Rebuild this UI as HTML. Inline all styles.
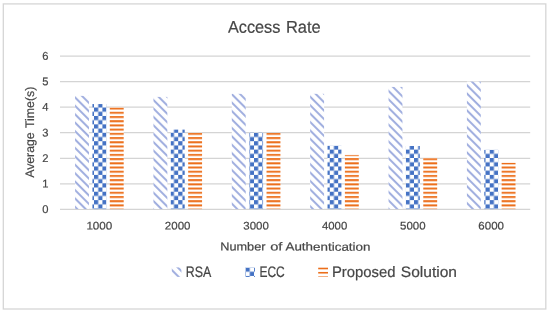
<!DOCTYPE html>
<html lang="en"><head><meta charset="utf-8"><title>Access Rate</title>
<style>html,body{margin:0;padding:0;background:#fff;}body{width:550px;height:313px;overflow:hidden;}svg{display:block;}text{font-family:"Liberation Sans", sans-serif;fill:#464646;stroke:#464646;stroke-width:0.2px;text-rendering:geometricPrecision;}</style>
</head><body>
<svg width="550" height="313" viewBox="0 0 550 313">
<defs>
<pattern id="pr" patternUnits="userSpaceOnUse" width="5.954" height="5.954" patternTransform="rotate(45)"><rect x="0" y="2.899" width="6.054" height="1.945" fill="#9cabde"/></pattern>
<pattern id="pe" patternUnits="userSpaceOnUse" x="94.00" y="183.30" width="8.42" height="8.42"><rect x="0" y="0" width="4.21" height="4.21" fill="#4472c4"/><rect x="4.21" y="4.21" width="4.21" height="4.21" fill="#4472c4"/></pattern>
<pattern id="pp" patternUnits="userSpaceOnUse" x="0" y="183.30" width="4.21" height="4.21"><rect x="0" y="0.1" width="4.21" height="1.95" fill="#ec6e1a"/></pattern>
</defs>
<rect x="0" y="0" width="550" height="313" fill="#fff"/>
<rect x="3.3" y="3.9" width="542.5" height="305.1" fill="#fff" stroke="#d6d6d6" stroke-width="1.3"/>
<line x1="60.0" y1="209.40" x2="530.2" y2="209.40" stroke="#d4d4d4" stroke-width="1.25"/>
<line x1="60.0" y1="183.83" x2="530.2" y2="183.83" stroke="#d4d4d4" stroke-width="1.25"/>
<line x1="60.0" y1="158.27" x2="530.2" y2="158.27" stroke="#d4d4d4" stroke-width="1.25"/>
<line x1="60.0" y1="132.70" x2="530.2" y2="132.70" stroke="#d4d4d4" stroke-width="1.25"/>
<line x1="60.0" y1="107.13" x2="530.2" y2="107.13" stroke="#d4d4d4" stroke-width="1.25"/>
<line x1="60.0" y1="81.57" x2="530.2" y2="81.57" stroke="#d4d4d4" stroke-width="1.25"/>
<line x1="60.0" y1="56.00" x2="530.2" y2="56.00" stroke="#d4d4d4" stroke-width="1.25"/>
<rect x="75.07" y="95.88" width="13.90" height="113.02" fill="#fff"/>
<rect x="75.07" y="95.88" width="13.90" height="113.22" fill="url(#pr)"/>
<rect x="92.43" y="104.07" width="13.90" height="104.83" fill="#fff"/>
<rect x="92.43" y="104.07" width="13.90" height="105.03" fill="url(#pe)"/>
<rect x="109.79" y="107.39" width="13.90" height="101.51" fill="#fff"/>
<rect x="109.79" y="107.39" width="13.90" height="101.71" fill="url(#pp)"/>
<rect x="153.44" y="96.91" width="13.90" height="111.99" fill="#fff"/>
<rect x="153.44" y="96.91" width="13.90" height="112.19" fill="url(#pr)"/>
<rect x="170.80" y="129.63" width="13.90" height="79.27" fill="#fff"/>
<rect x="170.80" y="129.63" width="13.90" height="79.47" fill="url(#pe)"/>
<rect x="188.16" y="132.70" width="13.90" height="76.20" fill="#fff"/>
<rect x="188.16" y="132.70" width="13.90" height="76.40" fill="url(#pp)"/>
<rect x="231.81" y="93.84" width="13.90" height="115.06" fill="#fff"/>
<rect x="231.81" y="93.84" width="13.90" height="115.26" fill="url(#pr)"/>
<rect x="249.17" y="132.70" width="13.90" height="76.20" fill="#fff"/>
<rect x="249.17" y="132.70" width="13.90" height="76.40" fill="url(#pe)"/>
<rect x="266.53" y="132.96" width="13.90" height="75.94" fill="#fff"/>
<rect x="266.53" y="132.96" width="13.90" height="76.14" fill="url(#pp)"/>
<rect x="310.17" y="93.84" width="13.90" height="115.06" fill="#fff"/>
<rect x="310.17" y="93.84" width="13.90" height="115.26" fill="url(#pr)"/>
<rect x="327.53" y="145.74" width="13.90" height="63.16" fill="#fff"/>
<rect x="327.53" y="145.74" width="13.90" height="63.36" fill="url(#pe)"/>
<rect x="344.89" y="154.94" width="13.90" height="53.96" fill="#fff"/>
<rect x="344.89" y="154.94" width="13.90" height="54.16" fill="url(#pp)"/>
<rect x="388.54" y="86.94" width="13.90" height="121.96" fill="#fff"/>
<rect x="388.54" y="86.94" width="13.90" height="122.16" fill="url(#pr)"/>
<rect x="405.90" y="145.99" width="13.90" height="62.91" fill="#fff"/>
<rect x="405.90" y="145.99" width="13.90" height="63.11" fill="url(#pe)"/>
<rect x="423.26" y="158.27" width="13.90" height="50.63" fill="#fff"/>
<rect x="423.26" y="158.27" width="13.90" height="50.83" fill="url(#pp)"/>
<rect x="466.91" y="81.57" width="13.90" height="127.33" fill="#fff"/>
<rect x="466.91" y="81.57" width="13.90" height="127.53" fill="url(#pr)"/>
<rect x="484.27" y="149.83" width="13.90" height="59.07" fill="#fff"/>
<rect x="484.27" y="149.83" width="13.90" height="59.27" fill="url(#pe)"/>
<rect x="501.63" y="162.87" width="13.90" height="46.03" fill="#fff"/>
<rect x="501.63" y="162.87" width="13.90" height="46.23" fill="url(#pp)"/>
<text x="48.45" y="213.10" font-size="11.2" text-anchor="end" transform="rotate(0.05 48.45 213.10)">0</text>
<text x="48.45" y="187.53" font-size="11.2" text-anchor="end" transform="rotate(0.05 48.45 187.53)">1</text>
<text x="48.45" y="161.97" font-size="11.2" text-anchor="end" transform="rotate(0.05 48.45 161.97)">2</text>
<text x="48.45" y="136.40" font-size="11.2" text-anchor="end" transform="rotate(0.05 48.45 136.40)">3</text>
<text x="48.45" y="110.83" font-size="11.2" text-anchor="end" transform="rotate(0.05 48.45 110.83)">4</text>
<text x="48.45" y="85.27" font-size="11.2" text-anchor="end" transform="rotate(0.05 48.45 85.27)">5</text>
<text x="48.45" y="59.70" font-size="11.2" text-anchor="end" transform="rotate(0.05 48.45 59.70)">6</text>
<text x="86.40" y="229.60" font-size="11.00" textLength="25.94" lengthAdjust="spacingAndGlyphs" transform="rotate(0.05 86.40 229.60)">1000</text>
<text x="164.87" y="229.60" font-size="11.00" textLength="25.63" lengthAdjust="spacingAndGlyphs" transform="rotate(0.05 164.87 229.60)">2000</text>
<text x="243.38" y="229.60" font-size="11.00" textLength="25.48" lengthAdjust="spacingAndGlyphs" transform="rotate(0.05 243.38 229.60)">3000</text>
<text x="321.92" y="229.60" font-size="11.00" textLength="25.31" lengthAdjust="spacingAndGlyphs" transform="rotate(0.05 321.92 229.60)">4000</text>
<text x="400.09" y="229.60" font-size="11.00" textLength="25.51" lengthAdjust="spacingAndGlyphs" transform="rotate(0.05 400.09 229.60)">5000</text>
<text x="478.33" y="229.60" font-size="11.00" textLength="25.64" lengthAdjust="spacingAndGlyphs" transform="rotate(0.05 478.33 229.60)">6000</text>
<text y="32.80" font-size="17.00" transform="rotate(0.05 227.97 32.80)"><tspan x="227.97" textLength="52.32" lengthAdjust="spacingAndGlyphs">Access</tspan> <tspan x="285.95" textLength="34.78" lengthAdjust="spacingAndGlyphs">Rate</tspan></text>
<text y="250.55" font-size="11.60" transform="rotate(0.05 220.26 250.55)"><tspan x="220.26" textLength="45.26" lengthAdjust="spacingAndGlyphs">Number</tspan> <tspan x="270.19" textLength="12.19" lengthAdjust="spacingAndGlyphs">of</tspan> <tspan x="285.47" textLength="85.00" lengthAdjust="spacingAndGlyphs">Authentication</tspan></text>
<text y="34.00" font-size="12.40" transform="rotate(-90)"><tspan x="-177.82" textLength="45.47" lengthAdjust="spacingAndGlyphs">Average</tspan> <tspan x="-128.07" textLength="41.43" lengthAdjust="spacingAndGlyphs">Time(s)</tspan></text>
<rect x="171.8" y="267.4" width="9.6" height="9.5" fill="url(#pr)"/>
<text x="185.78" y="276.90" font-size="15.10" textLength="25.54" lengthAdjust="spacingAndGlyphs" transform="rotate(0.05 185.78 276.90)">RSA</text>
<rect x="245.2" y="267.5" width="9.7" height="9.4" fill="url(#pe)"/>
<text x="259.42" y="276.90" font-size="15.10" textLength="25.34" lengthAdjust="spacingAndGlyphs" transform="rotate(0.05 259.42 276.90)">ECC</text>
<rect x="318.2" y="267.7" width="9.8" height="1.6" fill="#ec6e1a"/><rect x="318.2" y="271.95" width="9.8" height="1.6" fill="#ec6e1a"/><rect x="318.2" y="276.1" width="9.8" height="0.9" fill="#ec6e1a" opacity="0.6"/>
<text y="276.90" font-size="15.10" transform="rotate(0.05 331.88 276.90)"><tspan x="331.88" textLength="63.58" lengthAdjust="spacingAndGlyphs">Proposed</tspan> <tspan x="400.89" textLength="56.11" lengthAdjust="spacingAndGlyphs">Solution</tspan></text>
</svg>
</body></html>
